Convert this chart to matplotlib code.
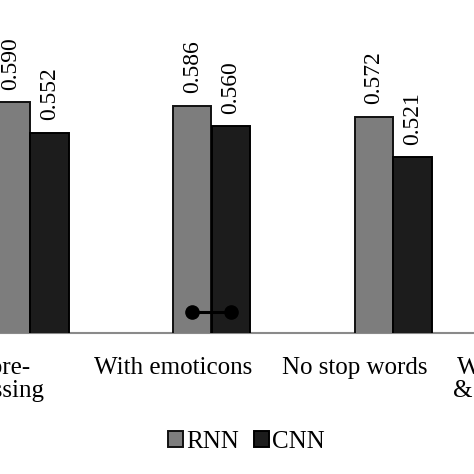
import matplotlib
matplotlib.use("Agg")
import matplotlib.pyplot as plt
import numpy as np

categories = ["No pre-\nprocessing", "With emoticons", "No stop words", "With emoticons\n& no stop words"]
rnn = [0.590, 0.586, 0.572, 0.600]
cnn = [0.552, 0.560, 0.521, 0.560]
series_names = ["RNN", "CNN"]
marker_y = [0.327, 0.327]

plt.rcParams['font.family'] = ['Liberation Serif', 'DejaVu Serif']

fig = plt.figure(figsize=(4.74, 4.74), dpi=100)
ax = fig.add_axes([0, (474 - 333) / 474, 1, 333 / 474])

w = 38.5 / 181.5
x = np.arange(len(categories))
rnn_x = x + 0.5 * w
cnn_x = x + 1.5 * w

b1 = ax.bar(rnn_x, rnn, width=w, color='#7d7d7d', edgecolor='#111111', linewidth=1.4, label=series_names[0], zorder=2)
b2 = ax.bar(cnn_x, cnn, width=w, color='#1c1c1c', edgecolor='#000000', linewidth=1.4, label=series_names[1], zorder=2)

for xs, vals in ((rnn_x, rnn), (cnn_x, cnn)):
    for xi, v in zip(xs, vals):
        ax.annotate(f"{v:.3f}", (xi, v), xytext=(0, 9), textcoords='offset points',
                    rotation=90, ha='center', va='bottom', fontsize=17)

# small connector artifact between bars of second group
ax.plot([rnn_x[1], cnn_x[1]], marker_y, color='black', lw=2.2, marker='o', ms=9.5, zorder=3)

# category labels (drawn as texts so partially visible ones still show)
for xi, lab in zip(x, categories):
    ax.annotate(lab, (xi, 0), xycoords=ax.get_xaxis_transform(), xytext=(0, -17),
                textcoords='offset points', ha='center', va='top', fontsize=18,
                linespacing=1.1, multialignment='center', annotation_clip=False)

ax.set_xticks([])
ax.set_xlim(8.5 / 181.5, (474 + 8.5) / 181.5)
ax.set_ylim(0.3, 0.3 + 333 / 795)
ax.set_yticks([])
for s in ['top', 'right', 'left']:
    ax.spines[s].set_visible(False)
ax.spines['bottom'].set_color('#8a8a8a')
ax.spines['bottom'].set_linewidth(1.5)
ax.spines['bottom'].set_zorder(1)

leg = fig.legend(handles=[b1, b2], labels=series_names, loc='center', bbox_to_anchor=(246 / 474, 1 - 442 / 474),
                 ncol=2, frameon=False, fontsize=18, handlelength=0.6, handleheight=0.6,
                 handletextpad=0.12, columnspacing=0.6, borderpad=0)

fig.savefig("out.png", dpi=100)
